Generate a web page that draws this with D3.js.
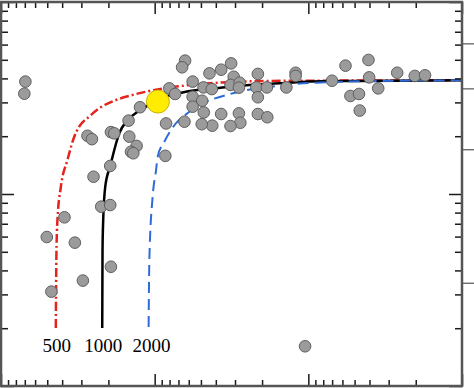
<!DOCTYPE html>
<html>
<head>
<meta charset="utf-8">
<script src="https://cdn.jsdelivr.net/npm/d3@7"></script>
<style>
  html, body { margin: 0; padding: 0; background: #fff; }
  svg { display: block; }
</style>
</head>
<body>
<svg id="chart" width="474" height="388"></svg>
<script>
// measured points (x, y)
const pointX = [694, 705, 124.5, 147.8, 273.7, 256.1, 192.6, 183.2, 146.3, 131.1,
  142.6, 137.7, 194.6, 250, 222.8, 194.6, 386.4, 503.5, 330.6, 192.6,
  293.2, 469.9, 10.5, 63.4, 66.3, 31.8, 36.9, 44.0, 21.3, 12.1,
  12.1, 30.6, 56.6, 80.3, 73.6, 48.1, 42.5, 32.1, 28.0, 28.3,
  21.8, 18.6, 13.9, 21.3, 56.6, 49.1, 56.6, 47.9, 36.9, 28.3,
  27.7, 32.1, 42.2, 49.4, 64.0, 84.3, 21.3, 18.5, 85.2, 7.01,
  5.73, 5.32, 4.68, 4.63, 4.06, 4.02, 3.51, 2.64, 2.03, 1.74];
const pointY = [38.5, 33.3, 28.3, 24.1, 20.1, 19.3, 21.0, 20.7, 19.9, 17.8,
  16.6, 16.3, 14.0, 12.3, 8.59, 8.76, 7.56, 5.97, 5.58, 4.18,
  3.54, 3.10, 1.61, 49.5, 45.7, 47.9, 44.4, 42.5, 42.2, 42.8,
  41.2, 40.8, 38.5, 35.5, 33.2, 35.9, 35.2, 37.0, 38.0, 35.8,
  35.9, 35.9, 35.9, 31.9, 32.1, 30.6, 28.5, 26.6, 26.1, 26.3,
  23.5, 22.6, 22.7, 23.1, 23.8, 23.3, 26.1, 25.1, 15.8, 38.9,
  46.6, 32.4, 33.2, 27.2, 49.9, 40.5, 35.5, 42.8, 41.2, 41.5];

// highlighted point
const markX = [95.3];
const markY = [30.3];

// model curves
const curveLabels = ['500', '1000', '2000'];
const curve500X = [439.8, 435.8, 429.3, 408.0, 369.5, 334.1, 309.9, 266.7, 229.6, 178.6, 139.8, 108.3, 59.4, 31.2, 18.7, 10.3, 1];
const curve500Y = [2.005, 4.93, 7.32, 10.88, 15.03, 19.81, 22.41, 25.27, 27.95, 30.87, 32.78, 34.4, 36.96, 38.3, 38.8, 38.9, 39.1];
const curve1000X = [219.4, 218.4, 216.2, 209.8, 194.6, 170.0, 150.0, 129.7, 113.8, 80.3, 66.0, 36.2, 24.1, 15.4, 9.8, 4.63, 1];
const curve1000Y = [2.005, 5.11, 7.32, 10.88, 14.0, 20.7, 24.29, 26.73, 28.5, 32.6, 33.8, 35.9, 37.0, 37.7, 38.5, 38.8, 39.1];
const curve2000X = [109.5, 108.3, 103.1, 97.9, 95.6, 86.5, 76.3, 59.4, 31.0, 18.8, 12.6, 8.87, 3.42, 1];
const curve2000Y = [2.029, 4.53, 9.68, 13.34, 15.64, 18.73, 22.2, 26.8, 33.5, 35.9, 37.3, 38.0, 38.8, 39.1];

// label height and the extra outer ticks on the right side
const labelY = 1.5;
const rightTicks = [60.9, 35.5, 17.1, 3.45];

const svg = d3.select('#chart');

const x = d3.scaleLog().domain([1000, 1]).range([1, 462]);
const y = d3.scaleLog().domain([1, 100]).range([386, 2]);

const isMajor = d => Math.abs(Math.log10(d) - Math.round(Math.log10(d))) < 1e-6;

// curves
const curves = [
  { xs: curve500X, ys: curve500Y, color: '#e3241d', width: 2.5, dash: '9,3,2,3', dx: 0 },
  { xs: curve1000X, ys: curve1000Y, color: '#000', width: 2.5, dash: null, dx: 0 },
  { xs: curve2000X, ys: curve2000Y, color: '#2e6bd8', width: 2, dash: '11,6', dx: 2 }
];

const line = d3.line()
  .x(d => x(d[0]))
  .y(d => y(d[1]))
  .curve(d3.curveMonotoneX);

svg.append('g').selectAll('path')
  .data(curves)
  .join('path')
  .attr('d', c => line(c.xs.map((v, i) => [v, c.ys[i]])))
  .attr('fill', 'none')
  .attr('stroke', c => c.color)
  .attr('stroke-width', c => c.width)
  .attr('stroke-dasharray', c => c.dash);

// labels under each curve
svg.append('g').selectAll('text')
  .data(curves)
  .join('text')
  .attr('x', c => x(c.xs[0]) + 1 + c.dx)
  .attr('y', y(labelY))
  .attr('text-anchor', 'middle')
  .attr('font-family', '"Liberation Serif", "DejaVu Serif", serif')
  .attr('font-size', 19)
  .attr('fill', '#000')
  .text((c, i) => curveLabels[i]);

// highlighted point
svg.append('g').selectAll('circle')
  .data(markX.map((v, i) => [v, markY[i]]))
  .join('circle')
  .attr('cx', d => x(d[0]))
  .attr('cy', d => y(d[1]))
  .attr('r', 11.5)
  .attr('fill', '#ffec00')
  .attr('stroke', '#c9b400')
  .attr('stroke-width', 1);

// scatter
svg.append('g').selectAll('circle')
  .data(pointX.map((v, i) => [v, pointY[i]]))
  .join('circle')
  .attr('cx', d => x(d[0]))
  .attr('cy', d => y(d[1]))
  .attr('r', 5.8)
  .attr('fill', '#9b9b9b')
  .attr('stroke', '#5e5e5e')
  .attr('stroke-width', 1);

// axes: ticks pointing inward, no labels
function drawAxis(axisFn, scale, transform, major, minor) {
  const g = svg.append('g')
    .attr('transform', transform)
    .call(axisFn(scale).tickValues(scale.ticks()).tickSize(minor).tickFormat(''));
  g.select('.domain').remove();
  const horiz = axisFn === d3.axisBottom || axisFn === d3.axisTop;
  const k = horiz ? (axisFn === d3.axisBottom ? 1 : -1) : (axisFn === d3.axisRight ? 1 : -1);
  g.selectAll('.tick line')
    .attr(horiz ? 'y2' : 'x2', d => k * (isMajor(d) ? major : minor))
    .attr('stroke', '#1a1a1a')
    .attr('stroke-width', 1.5);
  return g;
}

drawAxis(d3.axisBottom, x, 'translate(0,386)', -12, -6);
drawAxis(d3.axisTop, x, 'translate(0,2)', -12, -6);
drawAxis(d3.axisLeft, y, 'translate(1,0)', -13, -7);
drawAxis(d3.axisRight, y, 'translate(462,0)', -13, -7);

// extra outward ticks on the right
const rightAxis = svg.append('g')
  .attr('transform', 'translate(462,0)')
  .call(d3.axisRight(y).tickValues(rightTicks).tickSize(14).tickFormat(''));
rightAxis.select('.domain').remove();
rightAxis.selectAll('.tick line').attr('stroke', '#555').attr('stroke-width', 1.2);

// frame
svg.append('rect')
  .attr('x', 1)
  .attr('y', 2)
  .attr('width', 461)
  .attr('height', 384)
  .attr('fill', 'none')
  .attr('stroke', '#555')
  .attr('stroke-width', 2.5);
</script>
</body>
</html>
